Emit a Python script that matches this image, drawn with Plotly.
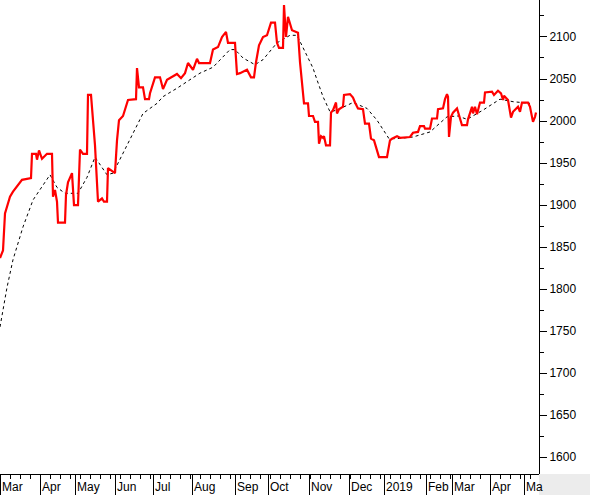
import plotly.graph_objects as go

# time index (trading-session scale) and values
price_t = [0,3,5,10,13,22,31,32,36,37,39,42,47,52,53,55,57,58,65,66,68,72,74,78,80,83,87,88,91,95,98,102,104,107,108,115,117,119,123,128,136,137,139,143,145,149,150,155,160,163,167,171,177,181,185,188,193,197,199,210,213,218,222,226,228,235,237,240,247,251,254,256,259,263,267,271,275,277,279,283,284,286,288,292,298,300,303,304,308,309,313,315,318,319,321,323,324,326,330,331,333,336,337,339,343,344,350,353,355,358,363,365,369,371,374,376,379,387,390,392,397,400,410,413,418,420,424,425,430,432,437,438,443,445,447,448,449,451,453,457,459,462,467,468,472,473,475,477,480,484,485,492,494,498,501,503,504,508,511,513,518,520,522,528,530,532,533,535,536]
price_v = [1837,1846,1890,1910,1916,1930,1932,1961,1961,1954,1965,1955,1961,1961,1910,1918,1904,1879,1879,1912,1927,1938,1900,1900,1966,1961,1961,2031,2031,1971,1904,1908,1904,1904,1944,1938,1977,2001,2006,2025,2026,2063,2040,2040,2026,2026,2033,2052,2052,2038,2049,2052,2056,2051,2057,2069,2061,2074,2069,2069,2085,2088,2100,2106,2093,2093,2056,2057,2061,2052,2052,2070,2090,2100,2102,2117,2117,2093,2087,2087,2138,2100,2124,2108,2105,2070,2033,2021,2021,2006,2006,1999,1999,1973,1982,1980,1982,1971,1971,2010,2013,2022,2009,2014,2017,2031,2032,2028,2022,2015,2014,1997,1997,1979,1977,1969,1957,1957,1977,1979,1982,1980,1981,1986,1987,1994,1994,1991,1991,2003,2003,2014,2015,2026,2032,2029,1981,2005,2010,2015,2007,1995,1995,2002,2017,2009,2017,2008,2022,2022,2034,2035,2031,2036,2033,2025,2030,2025,2004,2011,2017,2011,2022,2022,2017,2005,1999,2005,2010]

ma_t = [0,7,13,23,33,50,57,65,78,87,95,107,113,123,133,143,157,163,177,190,200,213,220,230,235,243,255,263,277,290,297,303,313,317,323,330,337,353,367,377,389,397,413,430,447,458,467,483,500,513,530]
ma_v = [1755,1802,1835,1874,1906,1936,1921,1914,1914,1933,1957,1936,1938,1962,1986,2009,2021,2029,2039,2049,2057,2064,2073,2085,2085,2075,2067,2073,2093,2102,2102,2088,2063,2049,2029,2011,2013,2022,2015,2001,1979,1979,1981,1987,2005,2006,2002,2013,2026,2023,2021]

month_t = [0,40,75,115,153,192,235,268,309,349,384,426,452,490,524]
month_labels = ["Mar","Apr","May","Jun","Jul","Aug","Sep","Oct","Nov","Dec","2019","Feb","Mar","Apr","Ma"]
y_ticks = [1600,1650,1700,1750,1800,1850,1900,1950,2000,2050,2100]

fig = go.Figure()
fig.add_trace(go.Scatter(x=ma_t, y=ma_v, mode="lines",
                         line=dict(color="black", width=1, dash="3px,3px"), hoverinfo="skip"))
fig.add_trace(go.Scatter(x=price_t, y=price_v, mode="lines",
                         line=dict(color="#ff0000", width=2.2), hoverinfo="skip"))

for t, lab in zip(month_t, month_labels):
    fig.add_annotation(x=t, y=0, xref="x", yref="paper", text=lab, showarrow=False,
                       xanchor="left", yanchor="top", xshift=0, yshift=-4,
                       font=dict(family="Liberation Sans, Arial", size=12, color="black"))

fig.add_shape(type="rect", xref="paper", yref="paper", x0=1, x1=1.2, y0=0, y1=-0.1,
              fillcolor="#ececec", line=dict(width=0))

fig.update_layout(
    width=590, height=495, margin=dict(l=0, r=51, t=0, b=21),
    paper_bgcolor="white", plot_bgcolor="white", showlegend=False,
    xaxis=dict(range=[0, 539], tickvals=month_t, ticktext=[""]*len(month_t),
               ticks="outside", ticklen=20, tickcolor="black", tickwidth=1,
               showgrid=False, zeroline=False, showline=True, linecolor="black",
               minor=dict(dtick=10, tick0=0, ticks="outside", ticklen=4, tickcolor="black")),
    yaxis=dict(range=[1580, 2144], side="right", tickvals=y_ticks,
               ticks="outside", ticklen=7, tickcolor="black", showgrid=False,
               zeroline=False, showline=True, linecolor="black",
               tickfont=dict(family="Liberation Sans, Arial", size=12, color="black"),
               minor=dict(dtick=25, tick0=0, ticks="outside", ticklen=4, tickcolor="black")),
)
fig.write_html("out.html", config={"displayModeBar": False})

with open("out.html", encoding="utf-8") as f:
    html = f.read()
html = html.replace("<body>", '<body style="margin:0;overflow:hidden">', 1)
with open("out.html", "w", encoding="utf-8") as f:
    f.write(html)
